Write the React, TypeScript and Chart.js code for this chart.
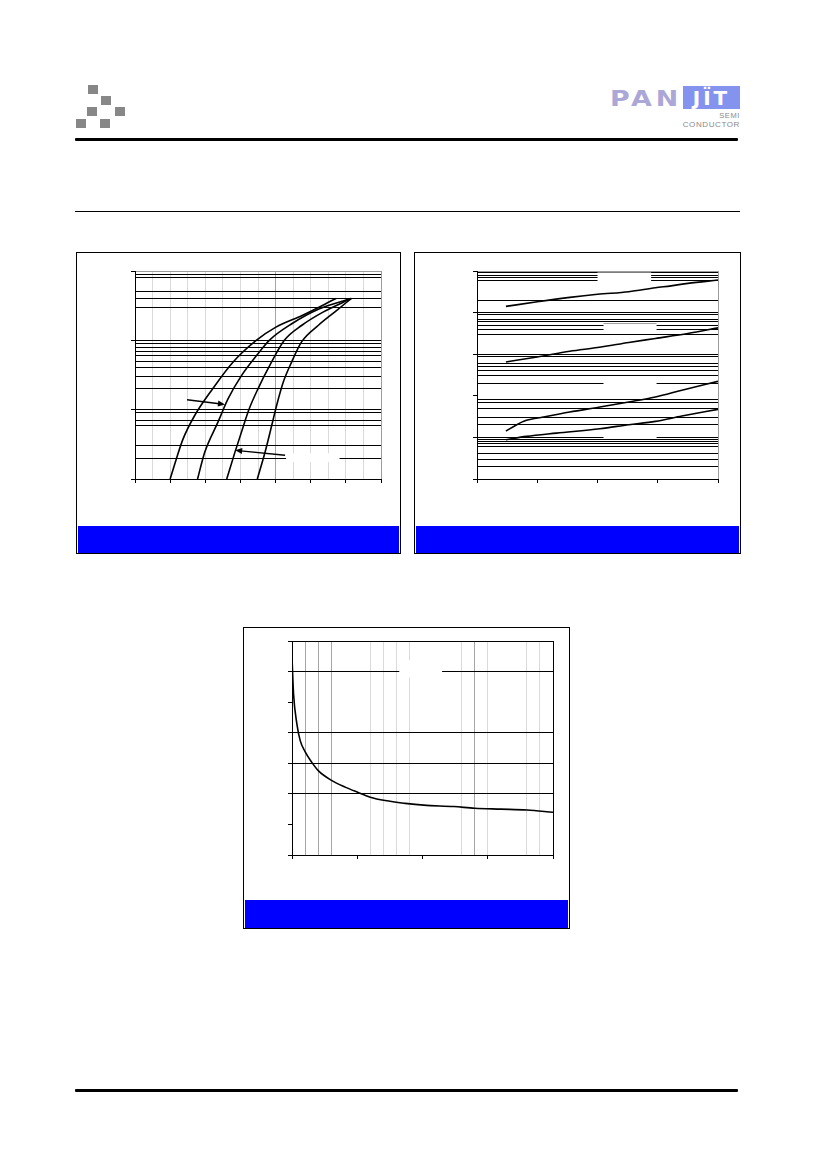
import React, { useEffect, useRef } from "react";
import { Chart, registerables } from "chart.js";
Chart.register(...registerables);

// ---------------- Chart 1 (log Y, linear X) ----------------
const c1XMin = 0;
const c1XMax = 7;
const c1YMin = 1;
const c1YMax = 1000;
const c1XTicks = [0, 0.5, 1, 1.5, 2, 2.5, 3, 3.5, 4, 4.5, 5, 5.5, 6, 6.5, 7];
const c1XMajor = [0, 1, 2, 3, 4, 5, 6, 7];
const c1XDarkGrid = [4];
const c1YMajor = [1, 10, 100, 1000];
const c1YLines = [2, 3, 6, 7, 9, 10, 20, 30, 40, 50, 60, 70, 80, 90, 100, 300, 400, 500, 800, 900];

const c1AX = [1.0, 1.17, 1.36, 1.69, 2.21, 2.78, 3.44, 4.01, 4.77, 5.72];
const c1AY = [1, 1.9, 3.7, 8.1, 20, 48, 99, 155, 230, 400];
const c1BX = [1.78, 1.98, 2.36, 2.65, 3.03, 3.5, 3.82, 4.45, 5.25, 6.15];
const c1BY = [1, 2.4, 6.6, 14.4, 31, 64, 100, 172, 285, 400];
const c1CX = [2.61, 2.84, 3.12, 3.24, 3.5, 3.82, 4.25, 4.75, 5.35, 6.15];
const c1CY = [1, 2.4, 6.6, 10, 20, 42, 100, 165, 255, 400];
const c1DX = [3.48, 3.7, 3.89, 4.03, 4.22, 4.46, 4.74, 5.22, 5.69, 6.15];
const c1DY = [1, 2.43, 5.9, 11.5, 25, 49, 95, 165, 258, 400];

const c1Arrows = [
  { from: [1.48, 13.9], to: [2.56, 11.9] },
  { from: [4.27, 2.2], to: [2.85, 2.6] },
];
const c1Blanks = [{ x0: 4.3, x1: 5.82, y0: 1.75, y1: 2.35 }];

// ---------------- Chart 2 (log Y, linear X) ----------------
const c2XMin = 0;
const c2XMax = 200;
const c2YMin = 0.001;
const c2YMax = 100;
const c2XTicks = [0, 50, 100, 150, 200];
const c2YMajor = [0.001, 0.01, 0.1, 1, 10, 100];
const c2YLines = [
  0.002, 0.003, 0.004, 0.006, 0.007, 0.008, 0.009, 0.01,
  0.02, 0.03, 0.05, 0.07, 0.08,
  0.2, 0.3, 0.4, 0.5, 0.6, 0.9, 1,
  3, 4, 5, 6, 7, 9, 10,
  20, 60, 70, 80, 90,
];
const c2S1X = [24, 50, 77, 100, 126, 148, 161, 175, 200];
const c2S1Y = [14.1, 18.2, 23.2, 27.5, 31.8, 39.6, 44, 50.5, 60.7];
const c2S2X = [24, 50, 77, 100, 126, 148, 175, 200];
const c2S2Y = [0.652, 0.86, 1.18, 1.45, 1.91, 2.39, 3.15, 4.3];
const c2S3X = [24, 33, 41, 55, 77, 102, 126, 148, 170, 200];
const c2S3Y = [0.0142, 0.0202, 0.0257, 0.0309, 0.0407, 0.0537, 0.071, 0.0935, 0.136, 0.223];
const c2S4X = [24, 41, 66, 102, 126, 148, 170, 200];
const c2S4Y = [0.0088, 0.0106, 0.0127, 0.0162, 0.0202, 0.0243, 0.0326, 0.0473];
const c2Blanks = [
  { x0: 100, x1: 144.5, y0: 57, y1: 92 },
  { x0: 105, x1: 149, y0: 3.1, y1: 5.5, stroke: "#a0a0a0" },
  { x0: 105, x1: 149, y0: 0.185, y1: 0.215 },
  { x0: 105, x1: 149, y0: 0.0094, y1: 0.0106 },
];

// ---------------- Chart 3 (linear/linear) ----------------
const c3XMin = 0;
const c3XMax = 20;
const c3YMin = 0;
const c3YMax = 7;
const c3XTicks = [0, 1, 2, 3, 4, 5, 6, 7, 8, 9, 10, 11, 12, 13, 14, 15, 16, 17, 18, 19, 20];
const c3XMajor = [0, 5, 10, 15, 20];
const c3XMidGrid = [1, 2, 3, 14];
const c3XLightGrid = [6, 7, 8, 9, 13, 15, 18, 19];
const c3YTicks = [0, 1, 2, 3, 4, 5, 6, 7];
const c3YLines = [2, 3, 4, 6];
const c3X = [0, 0.12, 0.37, 0.63, 1.0, 1.52, 2.03, 3.03, 4.07, 5.1, 6.0, 7.14, 8.67, 10.1, 12.4, 14.0, 16.0, 18.0, 20];
const c3Y = [6.45, 5.26, 4.3, 3.74, 3.38, 3.03, 2.75, 2.44, 2.22, 2.04, 1.89, 1.78, 1.69, 1.63, 1.585, 1.53, 1.5, 1.47, 1.4];
const c3Blanks = [{ x0: 8.22, x1: 11.5, y0: 5.81, y1: 6.37 }];

// ---------------- helpers ----------------
const CLEAR = "rgba(0,0,0,0)";
const AX = 4;
const near = (v: number, arr: number[]) =>
  arr.some((a) => Math.abs(a - v) <= Math.abs(a) * 1e-6 + 1e-9);

function makeScale(a: any) {
  return {
    type: a.type,
    min: a.min,
    max: a.max,
    position: a.horizontal ? "bottom" : "left",
    afterBuildTicks: (s: any) => {
      s.ticks = a.values.map((v: number) => ({ value: v }));
    },
    afterFit: (s: any) => {
      if (a.horizontal) s.height = AX;
      else s.width = AX;
    },
    ticks: { display: false },
    grid: {
      color: (ctx: any) => (ctx.tick ? a.gridColor(ctx.tick.value) : CLEAR),
      tickColor: (ctx: any) => (ctx.tick && near(ctx.tick.value, a.major) ? "#000" : CLEAR),
      tickLength: AX,
      lineWidth: 1,
      tickWidth: 1,
      drawTicks: true,
      drawOnChartArea: true,
    },
    border: { display: true, color: "#000", width: 1 },
  };
}

function series(xs: number[], ys: number[]) {
  return {
    data: xs.map((x, i) => ({ x, y: ys[i] })),
    borderColor: "#000",
    borderWidth: 1.6,
    pointRadius: 0,
    fill: false,
    cubicInterpolationMode: "monotone",
  };
}

function decor(blanks: any[], arrows: any[]) {
  return {
    id: "decor",
    beforeDatasetsDraw(chart: any) {
      const { ctx } = chart;
      const xs = chart.scales.x;
      const ys = chart.scales.y;
      blanks.forEach((b) => {
        const x1 = xs.getPixelForValue(b.x0);
        const x2 = xs.getPixelForValue(b.x1);
        const y1 = ys.getPixelForValue(b.y1);
        const y2 = ys.getPixelForValue(b.y0);
        ctx.save();
        ctx.fillStyle = "#fff";
        ctx.fillRect(x1, y1, x2 - x1, y2 - y1);
        if (b.stroke) {
          ctx.strokeStyle = b.stroke;
          ctx.lineWidth = 1;
          ctx.beginPath();
          const yy = Math.round(y1) + 0.5;
          ctx.moveTo(x1, yy);
          ctx.lineTo(x2, yy);
          ctx.stroke();
        }
        ctx.restore();
      });
    },
    afterDatasetsDraw(chart: any) {
      const { ctx } = chart;
      const xs = chart.scales.x;
      const ys = chart.scales.y;
      arrows.forEach((a) => {
        const x1 = xs.getPixelForValue(a.from[0]);
        const y1 = ys.getPixelForValue(a.from[1]);
        const x2 = xs.getPixelForValue(a.to[0]);
        const y2 = ys.getPixelForValue(a.to[1]);
        const ang = Math.atan2(y2 - y1, x2 - x1);
        const hl = 7;
        const hw = 3;
        ctx.save();
        ctx.strokeStyle = "#000";
        ctx.fillStyle = "#000";
        ctx.lineWidth = 1.3;
        ctx.beginPath();
        ctx.moveTo(x1, y1);
        ctx.lineTo(x2 - Math.cos(ang) * hl * 0.8, y2 - Math.sin(ang) * hl * 0.8);
        ctx.stroke();
        ctx.beginPath();
        ctx.moveTo(x2, y2);
        ctx.lineTo(x2 - Math.cos(ang) * hl - Math.sin(ang) * hw, y2 - Math.sin(ang) * hl + Math.cos(ang) * hw);
        ctx.lineTo(x2 - Math.cos(ang) * hl + Math.sin(ang) * hw, y2 - Math.sin(ang) * hl - Math.cos(ang) * hw);
        ctx.closePath();
        ctx.fill();
        ctx.restore();
      });
    },
  };
}

function baseOptions(x: any, y: any) {
  return {
    responsive: false,
    animation: false,
    devicePixelRatio: 1,
    plugins: { legend: { display: false }, tooltip: { enabled: false }, title: { display: false } },
    scales: { x: makeScale({ ...x, horizontal: true }), y: makeScale({ ...y, horizontal: false }) },
  };
}

const union = (a: number[], b: number[]) =>
  Array.from(new Set([...a, ...b])).sort((p, q) => p - q);

function buildChart1() {
  const frame = "#9c9c9c";
  return {
    type: "line",
    data: {
      datasets: [series(c1AX, c1AY), series(c1BX, c1BY), series(c1CX, c1CY), series(c1DX, c1DY)],
    },
    options: baseOptions(
      {
        type: "linear", min: c1XMin, max: c1XMax, values: c1XTicks, major: c1XMajor,
        gridColor: (v: number) =>
          v === c1XMin ? CLEAR : v === c1XMax ? frame : near(v, c1XDarkGrid) ? "#a6a6a6" : "#dadada",
      },
      {
        type: "logarithmic", min: c1YMin, max: c1YMax, values: union(c1YLines, c1YMajor), major: c1YMajor,
        gridColor: (v: number) =>
          near(v, [c1YMin]) ? CLEAR : near(v, [c1YMax]) ? frame : near(v, c1YLines) ? "#000" : CLEAR,
      }
    ),
    plugins: [decor(c1Blanks, c1Arrows)],
  };
}

function buildChart2() {
  const frame = "#9c9c9c";
  return {
    type: "line",
    data: {
      datasets: [series(c2S1X, c2S1Y), series(c2S2X, c2S2Y), series(c2S3X, c2S3Y), series(c2S4X, c2S4Y)],
    },
    options: baseOptions(
      {
        type: "linear", min: c2XMin, max: c2XMax, values: c2XTicks, major: c2XTicks,
        gridColor: (v: number) => (v === c2XMax ? frame : CLEAR),
      },
      {
        type: "logarithmic", min: c2YMin, max: c2YMax, values: union(c2YLines, c2YMajor), major: c2YMajor,
        gridColor: (v: number) =>
          near(v, [c2YMin]) ? CLEAR : near(v, [c2YMax]) ? frame : near(v, c2YLines) ? "#000" : CLEAR,
      }
    ),
    plugins: [decor(c2Blanks, [])],
  };
}

function buildChart3() {
  return {
    type: "line",
    data: { datasets: [series(c3X, c3Y)] },
    options: baseOptions(
      {
        type: "linear", min: c3XMin, max: c3XMax, values: c3XTicks, major: c3XMajor,
        gridColor: (v: number) =>
          v === c3XMax ? "#000" : near(v, c3XMidGrid) ? "#a6a6a6" : near(v, c3XLightGrid) ? "#dadada" : CLEAR,
      },
      {
        type: "linear", min: c3YMin, max: c3YMax, values: c3YTicks, major: c3YTicks,
        gridColor: (v: number) => (v === c3YMax ? "#000" : near(v, c3YLines) ? "#000" : CLEAR),
      }
    ),
    plugins: [decor(c3Blanks, [])],
  };
}

function PlotBox(props: { box: any; plot: any; band: number; build: () => any }) {
  const { box, plot, band, build } = props;
  const ref = useRef<HTMLCanvasElement>(null);
  const cw = box.width - 2;
  const ch = box.height - 2 - band;
  useEffect(() => {
    const cfg = build();
    const cl = box.left + 1;
    const ct = box.top + 1;
    cfg.options.layout = {
      padding: {
        left: plot.left - cl - AX,
        top: plot.top - ct,
        right: cl + cw - plot.right,
        bottom: ct + ch - plot.bottom - AX,
      },
    };
    const chart = new Chart(ref.current as HTMLCanvasElement, cfg as any);
    return () => chart.destroy();
  }, []);
  return (
    <div
      style={{
        position: "absolute", left: box.left, top: box.top, width: box.width, height: box.height,
        border: "1px solid #000", boxSizing: "border-box", background: "#fff",
      }}
    >
      <canvas
        ref={ref}
        width={cw}
        height={ch}
        style={{ position: "absolute", left: 0, top: 0, width: cw, height: ch, display: "block" }}
      />
      <div style={{ position: "absolute", left: 1, top: ch, width: cw - 2, height: band, background: "#0000ff" }} />
    </div>
  );
}

const sq = (left: number, top: number) => (
  <div key={left + "-" + top} style={{ position: "absolute", left, top, width: 10, height: 9, background: "#878787" }} />
);

export default function App() {
  return (
    <div style={{ position: "absolute", left: 0, top: 0, width: 826, height: 1169, background: "#fff", overflow: "hidden" }}>
      {sq(88, 85)}
      {sq(101, 96)}
      {sq(87, 107)}
      {sq(115, 107)}
      {sq(76, 119)}
      {sq(100, 119)}

      <div
        style={{
          position: "absolute", left: 610, top: 88, fontFamily: "'DejaVu Sans', sans-serif", fontSize: 21,
          fontWeight: "bold", lineHeight: "22px", color: "#aba7d6", letterSpacing: 3, transform: "scaleX(1.28)",
          transformOrigin: "left top", whiteSpace: "nowrap",
        }}
      >
        PAN
      </div>
      <div
        style={{
          position: "absolute", left: 683, top: 86, width: 57, height: 23, background: "#8393ee", color: "#fff",
          fontFamily: "'DejaVu Sans', sans-serif", fontWeight: "bold", fontSize: 20, lineHeight: "25px",
          textAlign: "center", letterSpacing: 3, whiteSpace: "nowrap",
        }}
      >
        JÏT
      </div>
      <div
        style={{
          position: "absolute", right: 826 - 740, top: 112, fontFamily: "'Liberation Sans', Arial, sans-serif",
          fontSize: 7.5, lineHeight: "8px", color: "#8a8a8a", letterSpacing: 0.6, whiteSpace: "nowrap",
        }}
      >
        SEMI
      </div>
      <div
        style={{
          position: "absolute", right: 826 - 740, top: 121, fontFamily: "'Liberation Sans', Arial, sans-serif",
          fontSize: 8, lineHeight: "8px", color: "#8a8a8a", letterSpacing: 0.6, whiteSpace: "nowrap",
        }}
      >
        CONDUCTOR
      </div>

      <div style={{ position: "absolute", left: 75, top: 138, width: 663, height: 3, background: "#000", borderRadius: 1 }} />
      <div style={{ position: "absolute", left: 75, top: 211, width: 665, height: 1, background: "#000" }} />
      <div style={{ position: "absolute", left: 75, top: 1089, width: 663, height: 3, background: "#000", borderRadius: 1 }} />

      <PlotBox
        box={{ left: 76, top: 252, width: 325, height: 302 }}
        plot={{ left: 135, top: 271, right: 381, bottom: 479 }}
        band={27}
        build={buildChart1}
      />
      <PlotBox
        box={{ left: 414, top: 252, width: 327, height: 302 }}
        plot={{ left: 477, top: 271, right: 718, bottom: 479 }}
        band={27}
        build={buildChart2}
      />
      <PlotBox
        box={{ left: 243, top: 627, width: 327, height: 302 }}
        plot={{ left: 292, top: 641, right: 553, bottom: 855 }}
        band={28}
        build={buildChart3}
      />
    </div>
  );
}
